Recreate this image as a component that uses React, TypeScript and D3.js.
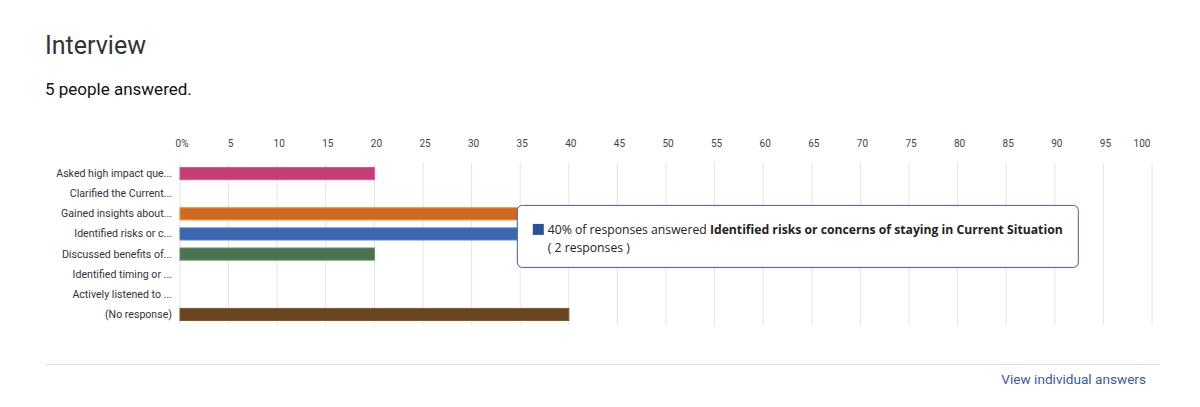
import * as d3 from 'd3';
import * as React from 'react';

const categories = [
    'Asked high impact que...',
    'Clarified the Current...',
    'Gained insights about...',
    'Identified risks or c...',
    'Discussed benefits of...',
    'Identified timing or ...',
    'Actively listened to ...',
    '(No response)',
];
const percents = [20, 0, 40, 40, 20, 0, 0, 40];
const colors = ['#c43d73', '#a03a8f', '#cd6a1f', '#3c67ae', '#4a7350', '#888888', '#888888', '#6b4421'];
const ticks = d3.range(0, 101, 5);

const width = 1200;
const height = 407;
const plot = {left: 180, right: 1152, top: 163, bottom: 325};

export default function App() {
    const x = d3.scaleLinear().domain([0, 100]).range([plot.left, plot.right]);
    const y = d3.scaleBand<number>()
        .domain(d3.range(categories.length))
        .range([plot.top + 0.5, plot.bottom - 0.5])
        .paddingInner(0.4)
        .paddingOuter(0.2);

    const hovered = 3;
    const tipX = x(percents[hovered]) - 52;
    const tipY = (y(hovered) as number) - 23;

    return (
        <svg width={width} height={height} style={{position: 'absolute', left: 0, top: 0}}
            fontFamily='Roboto, sans-serif'>
            <rect width={width} height={height} fill='#fff' />
            <text x={45} y={54} fontSize={25} fill='#333' fontWeight={400}>Interview</text>
            <text x={45} y={95} fontSize={17} fill='#111'>5 people answered.</text>

            <g className='x-grid'>
                {ticks.map((t) => (
                    <g key={t}>
                        <line x1={x(t)} x2={x(t)} y1={plot.top} y2={plot.bottom} stroke='#e4e4e4' />
                        <text x={t === 100 ? x(t) - 10 : x(t) + 2} y={147} fontSize={10} fill='#444'
                            textAnchor='middle'>{t === 0 ? '0%' : t}</text>
                    </g>
                ))}
            </g>

            <g className='y-axis'>
                {categories.map((c, i) => (
                    <text key={c} x={172} y={(y(i) as number) + y.bandwidth() / 2 + 3.5} fontSize={10.6}
                        fill='#333' textAnchor='end'>{c}</text>
                ))}
            </g>

            <g className='bars'>
                {percents.map((p, i) => p > 0 ? (
                    <rect key={i} x={x(0)} y={y(i)} width={x(p) - x(0)} height={y.bandwidth()}
                        fill={colors[i]} stroke={d3.color(colors[i])!.brighter(0.6).formatHex()} strokeWidth={1} />
                ) : null)}
            </g>

            <line x1={45} x2={1160} y1={364.5} y2={364.5} stroke='#e0e0e0' />
            <text x={1146} y={384} fontSize={13.6} fill='#3b5a9a' textAnchor='end'>View individual answers</text>

            <g className='tooltip' transform={`translate(${tipX},${tipY})`}>
                <rect x={1} y={1.5} width={561} height={62} rx={5} fill='#000' opacity={0.06} />
                <rect x={0.5} y={0.5} width={561} height={62} rx={5} fill='#fff' stroke='#3f5d9c' strokeWidth={1} />
                <rect x={16} y={19} width={11} height={11} fill='#2c5196' />
                <text x={31} y={29} fontSize={12.2} fill='#222' fontFamily='"Open Sans", sans-serif'>
                    40% of responses answered <tspan fontWeight='bold'>Identified risks or concerns of staying in Current Situation</tspan>
                </text>
                <text x={31} y={47} fontSize={12.2} fill='#222' fontFamily='"Open Sans", sans-serif'>( 2 responses )</text>
            </g>
        </svg>
    );
}
